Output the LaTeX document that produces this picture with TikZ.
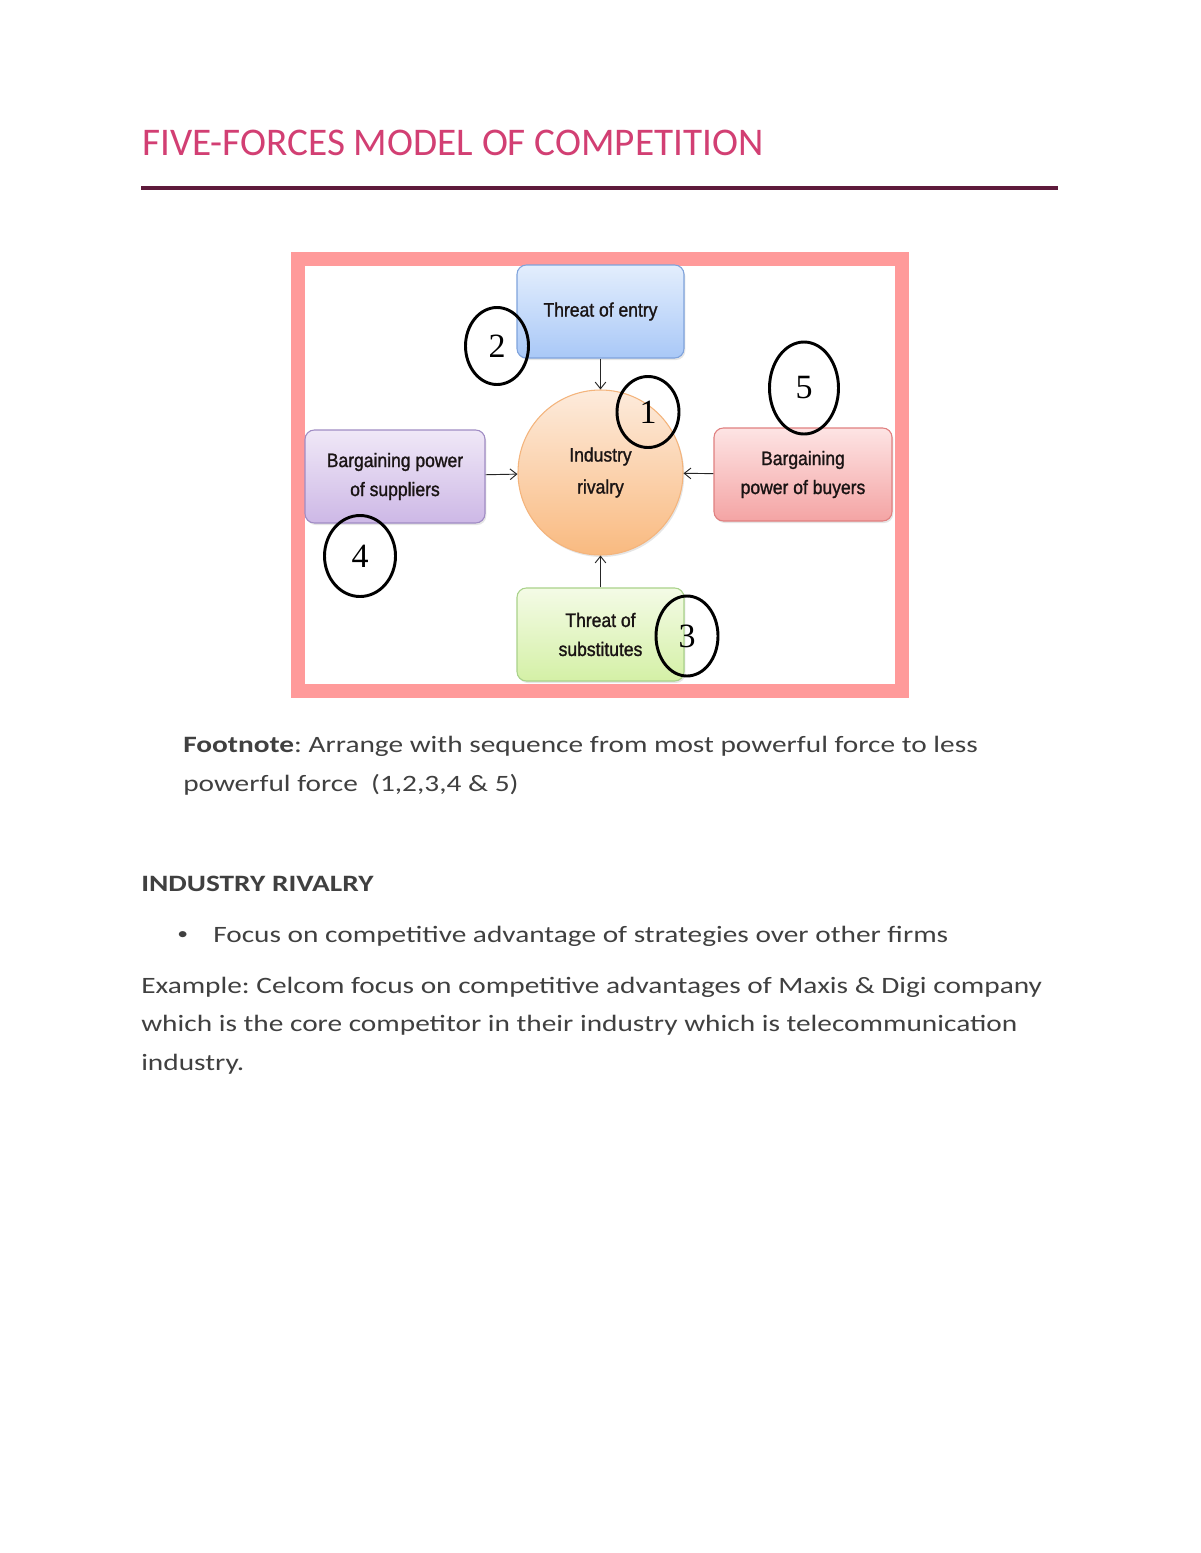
\documentclass[tikz,border=0pt]{standalone}
\usepackage{fontspec}
\setmainfont{Carlito}
\newfontfamily\bodyfont[FakeStretch=1.25]{Carlito}
\newfontfamily\diagfont[FakeStretch=0.9,FakeBold=1.3]{Liberation Sans}
\newfontfamily\numfont{Liberation Serif}
\usetikzlibrary{shapes.geometric,arrows.meta,shadows}
\frenchspacing
\definecolor{titlecol}{HTML}{D23F73}
\definecolor{rulecol}{HTML}{5E1A3B}
\definecolor{bodycol}{HTML}{404040}
\definecolor{framepink}{HTML}{FF9A9A}
\definecolor{diagtext}{HTML}{1A1414}
\definecolor{entryT}{HTML}{E3EEFD}\definecolor{entryB}{HTML}{A9C8F7}\definecolor{entryD}{HTML}{7FA3DC}
\definecolor{supT}{HTML}{F0E8F7}\definecolor{supB}{HTML}{CDB8E6}\definecolor{supD}{HTML}{A08CC4}
\definecolor{buyT}{HTML}{FDE4E4}\definecolor{buyB}{HTML}{F4A4A4}\definecolor{buyD}{HTML}{E08080}
\definecolor{subT}{HTML}{F4FBE6}\definecolor{subB}{HTML}{D4F0A6}\definecolor{subD}{HTML}{A9D28A}
\definecolor{rivT}{HTML}{FDEBDC}\definecolor{rivB}{HTML}{F9BA80}\definecolor{rivD}{HTML}{F4B47C}
\tikzset{
  forcebox/.style={rounded corners=7pt, line width=0.8pt, align=center,
    font=\diagfont\fontsize{14.6}{21.75}\selectfont, text=diagtext,
    drop shadow={opacity=0.2, shadow xshift=1pt, shadow yshift=-1.5pt}},
  numring/.style={ellipse, draw=black, line width=2.2pt, inner sep=0pt,
    font=\numfont\fontsize{25.5}{25.5}\selectfont},
  arr/.style={draw=black!85, line width=0.7pt, -{Straight Barb[length=5pt,width=8pt]}},
  bodytext/.style={anchor=base west, inner sep=0pt, text=bodycol,
    font=\bodyfont\fontsize{17.6}{21}\selectfont}
}
\begin{document}
\begin{tikzpicture}[x=0.75pt,y=-0.75pt]
\useasboundingbox (0,0) rectangle (1200,1553);
\fill[white] (0,0) rectangle (1200,1553);

% title and rule
\node[anchor=base west, inner sep=0pt, text=titlecol, font=\fontsize{29.4}{34}\selectfont] (title) at (142,155) {FIVE-FORCES MODEL OF COMPETITION};
\coordinate (ruleL) at (141,188);
\coordinate (ruleR) at (1058,188);
\draw[rulecol, line width=3pt] (ruleL) -- (ruleR);

% frame
\draw[framepink, line width=10.5pt] (297.5,259) rectangle (901.5,690.5);

% forces
\node[forcebox, draw=entryD, top color=entryT, bottom color=entryB,
      minimum width=125.25pt, minimum height=69.75pt] (entry) at (600.5,311.5) {Threat of entry};
\node[circle, draw=rivD, line width=0.8pt, top color=rivT, bottom color=rivB,
      minimum size=123.75pt, align=center, font=\diagfont\fontsize{14.6}{24}\selectfont, text=diagtext,
      drop shadow={opacity=0.2, shadow xshift=1pt, shadow yshift=-1.5pt}] (rivalry) at (600.5,472.5) {Industry\\rivalry};
\node[forcebox, draw=supD, top color=supT, bottom color=supB,
      minimum width=135pt, minimum height=69.75pt] (suppliers) at (395,476.5) {Bargaining power\\of suppliers};
\node[forcebox, draw=buyD, top color=buyT, bottom color=buyB,
      minimum width=133.5pt, minimum height=69.75pt] (buyers) at (803,474.5) {Bargaining\\power of buyers};
\node[forcebox, draw=subD, top color=subT, bottom color=subB,
      minimum width=125.25pt, minimum height=69.75pt] (subs) at (600.5,634.5) {Threat of\\substitutes};

% arrows
\draw[arr] (entry) -- (rivalry);
\draw[arr] (suppliers) -- (rivalry);
\draw[arr] (buyers) -- (rivalry);
\draw[arr] (subs) -- (rivalry);

% ranking rings
\node[numring, minimum width=46.5pt, minimum height=53.25pt] (n1) at (648,412) {1};
\node[numring, minimum width=47.25pt, minimum height=57.75pt] (n2) at (497,346) {2};
\node[numring, minimum width=46.5pt, minimum height=60pt] (n3) at (687,636) {3};
\node[numring, minimum width=53.25pt, minimum height=60.75pt] (n4) at (360,556) {4};
\node[numring, minimum width=51.75pt, minimum height=69pt] (n5) at (804,388) {5};

% body text
\node[bodytext] (fn1) at (183,752) {\textbf{Footnote}: Arrange with sequence from most powerful force to less};
\node[bodytext] (fn2) at (183,791) {powerful force\ \ (1,2,3,4 \& 5)};
\node[bodytext, font=\bodyfont\bfseries\fontsize{17.6}{21}\selectfont] (head) at (141,891) {INDUSTRY RIVALRY};
\node[bodytext, font=\bodyfont\fontsize{13}{13}\selectfont] (bul) at (177,939) {•};
\node[bodytext] (b1) at (213,942) {Focus on competitive advantage of strategies over other firms};
\node[bodytext] (ex1) at (141,993) {Example: Celcom focus on competitive advantages of Maxis \& Digi company};
\node[bodytext] (ex2) at (141,1031) {which is the core competitor in their industry which is telecommunication};
\node[bodytext] (ex3) at (141,1070) {industry.};
\end{tikzpicture}
\end{document}
